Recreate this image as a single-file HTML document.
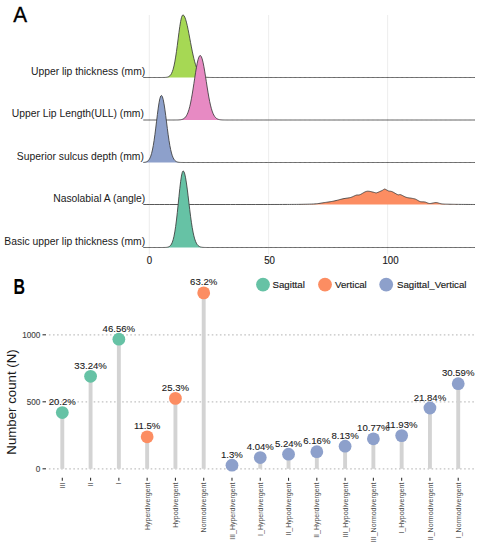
<!DOCTYPE html>
<html><head><meta charset="utf-8"><style>
html,body{margin:0;padding:0;background:#fff;}
svg{display:block;font-family:"Liberation Sans", sans-serif;}
</style></head><body>
<svg width="481" height="550" viewBox="0 0 481 550">
<rect width="481" height="550" fill="#fff"/>
<g stroke="#ebebeb" stroke-width="0.9">
<line x1="149.3" y1="15" x2="149.3" y2="254.3"/>
<line x1="268.6" y1="15" x2="268.6" y2="254.3"/>
<line x1="387.6" y1="15" x2="387.6" y2="254.3"/>
</g>
<path d="M143.30,77.50 L143.30,77.50 L144.13,77.50 L144.96,77.50 L145.79,77.50 L146.62,77.50 L147.45,77.50 L148.28,77.50 L149.10,77.50 L149.93,77.50 L150.76,77.50 L151.59,77.50 L152.42,77.50 L153.25,77.50 L154.08,77.50 L154.91,77.50 L155.74,77.50 L156.57,77.50 L157.40,77.50 L158.23,77.50 L159.06,77.50 L159.89,77.50 L160.71,77.50 L161.54,77.50 L162.37,77.49 L163.20,77.48 L164.03,77.47 L164.86,77.44 L165.69,77.38 L166.52,77.29 L167.35,77.13 L168.18,76.88 L169.01,76.47 L169.84,75.84 L170.67,74.90 L171.49,73.56 L172.32,71.69 L173.15,69.19 L173.98,65.95 L174.81,61.92 L175.64,57.08 L176.47,51.50 L177.30,45.36 L178.13,38.92 L178.96,32.51 L179.79,26.55 L180.62,21.47 L181.45,17.65 L182.27,15.42 L183.10,14.93 L183.93,15.56 L184.76,17.02 L185.59,19.24 L186.42,22.14 L187.25,25.61 L188.08,29.53 L188.91,33.74 L189.74,38.13 L190.57,42.56 L191.40,46.91 L192.23,51.08 L193.06,54.99 L193.88,58.58 L194.71,61.82 L195.54,64.68 L196.37,67.15 L197.20,69.27 L198.03,71.04 L198.86,72.50 L199.69,73.68 L200.52,74.62 L201.35,75.36 L202.18,75.93 L203.01,76.36 L203.84,76.69 L204.66,76.93 L205.49,77.10 L206.32,77.23 L207.15,77.32 L207.98,77.38 L208.81,77.42 L209.64,77.45 L210.47,77.47 L211.30,77.48 L212.13,77.49 L212.96,77.49 L213.79,77.50 L214.62,77.50 L215.44,77.50 L216.27,77.50 L217.10,77.50 L217.93,77.50 L218.76,77.50 L219.59,77.50 L220.42,77.50 L221.25,77.50 L222.08,77.50 L222.91,77.50 L223.74,77.50 L224.57,77.50 L225.40,77.50 L226.23,77.50 L227.05,77.50 L227.88,77.50 L228.71,77.50 L229.54,77.50 L230.37,77.50 L231.20,77.50 L232.03,77.50 L232.86,77.50 L233.69,77.50 L234.52,77.50 L235.35,77.50 L236.18,77.50 L237.01,77.50 L237.83,77.50 L238.66,77.50 L239.49,77.50 L240.32,77.50 L241.15,77.50 L241.98,77.50 L242.81,77.50 L243.64,77.50 L244.47,77.50 L245.30,77.50 L246.13,77.50 L246.96,77.50 L247.79,77.50 L248.61,77.50 L249.44,77.50 L250.27,77.50 L251.10,77.50 L251.93,77.50 L252.76,77.50 L253.59,77.50 L254.42,77.50 L255.25,77.50 L256.08,77.50 L256.91,77.50 L257.74,77.50 L258.57,77.50 L259.39,77.50 L260.22,77.50 L261.05,77.50 L261.88,77.50 L262.71,77.50 L263.54,77.50 L264.37,77.50 L265.20,77.50 L266.03,77.50 L266.86,77.50 L267.69,77.50 L268.52,77.50 L269.35,77.50 L270.18,77.50 L271.00,77.50 L271.83,77.50 L272.66,77.50 L273.49,77.50 L274.32,77.50 L275.15,77.50 L275.98,77.50 L276.81,77.50 L277.64,77.50 L278.47,77.50 L279.30,77.50 L280.13,77.50 L280.96,77.50 L281.78,77.50 L282.61,77.50 L283.44,77.50 L284.27,77.50 L285.10,77.50 L285.93,77.50 L286.76,77.50 L287.59,77.50 L288.42,77.50 L289.25,77.50 L290.08,77.50 L290.91,77.50 L291.74,77.50 L292.56,77.50 L293.39,77.50 L294.22,77.50 L295.05,77.50 L295.88,77.50 L296.71,77.50 L297.54,77.50 L298.37,77.50 L299.20,77.50 L300.03,77.50 L300.86,77.50 L301.69,77.50 L302.52,77.50 L303.35,77.50 L304.17,77.50 L305.00,77.50 L305.83,77.50 L306.66,77.50 L307.49,77.50 L308.32,77.50 L309.15,77.50 L309.98,77.50 L310.81,77.50 L311.64,77.50 L312.47,77.50 L313.30,77.50 L314.13,77.50 L314.95,77.50 L315.78,77.50 L316.61,77.50 L317.44,77.50 L318.27,77.50 L319.10,77.50 L319.93,77.50 L320.76,77.50 L321.59,77.50 L322.42,77.50 L323.25,77.50 L324.08,77.50 L324.91,77.50 L325.74,77.50 L326.56,77.50 L327.39,77.50 L328.22,77.50 L329.05,77.50 L329.88,77.50 L330.71,77.50 L331.54,77.50 L332.37,77.50 L333.20,77.50 L334.03,77.50 L334.86,77.50 L335.69,77.50 L336.52,77.50 L337.34,77.50 L338.17,77.50 L339.00,77.50 L339.83,77.50 L340.66,77.50 L341.49,77.50 L342.32,77.50 L343.15,77.50 L343.98,77.50 L344.81,77.50 L345.64,77.50 L346.47,77.50 L347.30,77.50 L348.12,77.50 L348.95,77.50 L349.78,77.50 L350.61,77.50 L351.44,77.50 L352.27,77.50 L353.10,77.50 L353.93,77.50 L354.76,77.50 L355.59,77.50 L356.42,77.50 L357.25,77.50 L358.08,77.50 L358.90,77.50 L359.73,77.50 L360.56,77.50 L361.39,77.50 L362.22,77.50 L363.05,77.50 L363.88,77.50 L364.71,77.50 L365.54,77.50 L366.37,77.50 L367.20,77.50 L368.03,77.50 L368.86,77.50 L369.69,77.50 L370.51,77.50 L371.34,77.50 L372.17,77.50 L373.00,77.50 L373.83,77.50 L374.66,77.50 L375.49,77.50 L376.32,77.50 L377.15,77.50 L377.98,77.50 L378.81,77.50 L379.64,77.50 L380.47,77.50 L381.29,77.50 L382.12,77.50 L382.95,77.50 L383.78,77.50 L384.61,77.50 L385.44,77.50 L386.27,77.50 L387.10,77.50 L387.93,77.50 L388.76,77.50 L389.59,77.50 L390.42,77.50 L391.25,77.50 L392.08,77.50 L392.90,77.50 L393.73,77.50 L394.56,77.50 L395.39,77.50 L396.22,77.50 L397.05,77.50 L397.88,77.50 L398.71,77.50 L399.54,77.50 L400.37,77.50 L401.20,77.50 L402.03,77.50 L402.86,77.50 L403.68,77.50 L404.51,77.50 L405.34,77.50 L406.17,77.50 L407.00,77.50 L407.83,77.50 L408.66,77.50 L409.49,77.50 L410.32,77.50 L411.15,77.50 L411.98,77.50 L412.81,77.50 L413.64,77.50 L414.46,77.50 L415.29,77.50 L416.12,77.50 L416.95,77.50 L417.78,77.50 L418.61,77.50 L419.44,77.50 L420.27,77.50 L421.10,77.50 L421.93,77.50 L422.76,77.50 L423.59,77.50 L424.42,77.50 L425.25,77.50 L426.07,77.50 L426.90,77.50 L427.73,77.50 L428.56,77.50 L429.39,77.50 L430.22,77.50 L431.05,77.50 L431.88,77.50 L432.71,77.50 L433.54,77.50 L434.37,77.50 L435.20,77.50 L436.03,77.50 L436.85,77.50 L437.68,77.50 L438.51,77.50 L439.34,77.50 L440.17,77.50 L441.00,77.50 L441.83,77.50 L442.66,77.50 L443.49,77.50 L444.32,77.50 L445.15,77.50 L445.98,77.50 L446.81,77.50 L447.63,77.50 L448.46,77.50 L449.29,77.50 L450.12,77.50 L450.95,77.50 L451.78,77.50 L452.61,77.50 L453.44,77.50 L454.27,77.50 L455.10,77.50 L455.93,77.50 L456.76,77.50 L457.59,77.50 L458.42,77.50 L459.24,77.50 L460.07,77.50 L460.90,77.50 L461.73,77.50 L462.56,77.50 L463.39,77.50 L464.22,77.50 L465.05,77.50 L465.88,77.50 L466.71,77.50 L467.54,77.50 L468.37,77.50 L469.20,77.50 L470.02,77.50 L470.85,77.50 L471.68,77.50 L472.51,77.50 L473.34,77.50 L474.17,77.50 L475.00,77.50 L475.00,77.50 Z" fill="#A6D854" stroke="none"/>
<path d="M143.30,77.50 L144.13,77.50 L144.96,77.50 L145.79,77.50 L146.62,77.50 L147.45,77.50 L148.28,77.50 L149.10,77.50 L149.93,77.50 L150.76,77.50 L151.59,77.50 L152.42,77.50 L153.25,77.50 L154.08,77.50 L154.91,77.50 L155.74,77.50 L156.57,77.50 L157.40,77.50 L158.23,77.50 L159.06,77.50 L159.89,77.50 L160.71,77.50 L161.54,77.50 L162.37,77.49 L163.20,77.48 L164.03,77.47 L164.86,77.44 L165.69,77.38 L166.52,77.29 L167.35,77.13 L168.18,76.88 L169.01,76.47 L169.84,75.84 L170.67,74.90 L171.49,73.56 L172.32,71.69 L173.15,69.19 L173.98,65.95 L174.81,61.92 L175.64,57.08 L176.47,51.50 L177.30,45.36 L178.13,38.92 L178.96,32.51 L179.79,26.55 L180.62,21.47 L181.45,17.65 L182.27,15.42 L183.10,14.93 L183.93,15.56 L184.76,17.02 L185.59,19.24 L186.42,22.14 L187.25,25.61 L188.08,29.53 L188.91,33.74 L189.74,38.13 L190.57,42.56 L191.40,46.91 L192.23,51.08 L193.06,54.99 L193.88,58.58 L194.71,61.82 L195.54,64.68 L196.37,67.15 L197.20,69.27 L198.03,71.04 L198.86,72.50 L199.69,73.68 L200.52,74.62 L201.35,75.36 L202.18,75.93 L203.01,76.36 L203.84,76.69 L204.66,76.93 L205.49,77.10 L206.32,77.23 L207.15,77.32 L207.98,77.38 L208.81,77.42 L209.64,77.45 L210.47,77.47 L211.30,77.48 L212.13,77.49 L212.96,77.49 L213.79,77.50 L214.62,77.50 L215.44,77.50 L216.27,77.50 L217.10,77.50 L217.93,77.50 L218.76,77.50 L219.59,77.50 L220.42,77.50 L221.25,77.50 L222.08,77.50 L222.91,77.50 L223.74,77.50 L224.57,77.50 L225.40,77.50 L226.23,77.50 L227.05,77.50 L227.88,77.50 L228.71,77.50 L229.54,77.50 L230.37,77.50 L231.20,77.50 L232.03,77.50 L232.86,77.50 L233.69,77.50 L234.52,77.50 L235.35,77.50 L236.18,77.50 L237.01,77.50 L237.83,77.50 L238.66,77.50 L239.49,77.50 L240.32,77.50 L241.15,77.50 L241.98,77.50 L242.81,77.50 L243.64,77.50 L244.47,77.50 L245.30,77.50 L246.13,77.50 L246.96,77.50 L247.79,77.50 L248.61,77.50 L249.44,77.50 L250.27,77.50 L251.10,77.50 L251.93,77.50 L252.76,77.50 L253.59,77.50 L254.42,77.50 L255.25,77.50 L256.08,77.50 L256.91,77.50 L257.74,77.50 L258.57,77.50 L259.39,77.50 L260.22,77.50 L261.05,77.50 L261.88,77.50 L262.71,77.50 L263.54,77.50 L264.37,77.50 L265.20,77.50 L266.03,77.50 L266.86,77.50 L267.69,77.50 L268.52,77.50 L269.35,77.50 L270.18,77.50 L271.00,77.50 L271.83,77.50 L272.66,77.50 L273.49,77.50 L274.32,77.50 L275.15,77.50 L275.98,77.50 L276.81,77.50 L277.64,77.50 L278.47,77.50 L279.30,77.50 L280.13,77.50 L280.96,77.50 L281.78,77.50 L282.61,77.50 L283.44,77.50 L284.27,77.50 L285.10,77.50 L285.93,77.50 L286.76,77.50 L287.59,77.50 L288.42,77.50 L289.25,77.50 L290.08,77.50 L290.91,77.50 L291.74,77.50 L292.56,77.50 L293.39,77.50 L294.22,77.50 L295.05,77.50 L295.88,77.50 L296.71,77.50 L297.54,77.50 L298.37,77.50 L299.20,77.50 L300.03,77.50 L300.86,77.50 L301.69,77.50 L302.52,77.50 L303.35,77.50 L304.17,77.50 L305.00,77.50 L305.83,77.50 L306.66,77.50 L307.49,77.50 L308.32,77.50 L309.15,77.50 L309.98,77.50 L310.81,77.50 L311.64,77.50 L312.47,77.50 L313.30,77.50 L314.13,77.50 L314.95,77.50 L315.78,77.50 L316.61,77.50 L317.44,77.50 L318.27,77.50 L319.10,77.50 L319.93,77.50 L320.76,77.50 L321.59,77.50 L322.42,77.50 L323.25,77.50 L324.08,77.50 L324.91,77.50 L325.74,77.50 L326.56,77.50 L327.39,77.50 L328.22,77.50 L329.05,77.50 L329.88,77.50 L330.71,77.50 L331.54,77.50 L332.37,77.50 L333.20,77.50 L334.03,77.50 L334.86,77.50 L335.69,77.50 L336.52,77.50 L337.34,77.50 L338.17,77.50 L339.00,77.50 L339.83,77.50 L340.66,77.50 L341.49,77.50 L342.32,77.50 L343.15,77.50 L343.98,77.50 L344.81,77.50 L345.64,77.50 L346.47,77.50 L347.30,77.50 L348.12,77.50 L348.95,77.50 L349.78,77.50 L350.61,77.50 L351.44,77.50 L352.27,77.50 L353.10,77.50 L353.93,77.50 L354.76,77.50 L355.59,77.50 L356.42,77.50 L357.25,77.50 L358.08,77.50 L358.90,77.50 L359.73,77.50 L360.56,77.50 L361.39,77.50 L362.22,77.50 L363.05,77.50 L363.88,77.50 L364.71,77.50 L365.54,77.50 L366.37,77.50 L367.20,77.50 L368.03,77.50 L368.86,77.50 L369.69,77.50 L370.51,77.50 L371.34,77.50 L372.17,77.50 L373.00,77.50 L373.83,77.50 L374.66,77.50 L375.49,77.50 L376.32,77.50 L377.15,77.50 L377.98,77.50 L378.81,77.50 L379.64,77.50 L380.47,77.50 L381.29,77.50 L382.12,77.50 L382.95,77.50 L383.78,77.50 L384.61,77.50 L385.44,77.50 L386.27,77.50 L387.10,77.50 L387.93,77.50 L388.76,77.50 L389.59,77.50 L390.42,77.50 L391.25,77.50 L392.08,77.50 L392.90,77.50 L393.73,77.50 L394.56,77.50 L395.39,77.50 L396.22,77.50 L397.05,77.50 L397.88,77.50 L398.71,77.50 L399.54,77.50 L400.37,77.50 L401.20,77.50 L402.03,77.50 L402.86,77.50 L403.68,77.50 L404.51,77.50 L405.34,77.50 L406.17,77.50 L407.00,77.50 L407.83,77.50 L408.66,77.50 L409.49,77.50 L410.32,77.50 L411.15,77.50 L411.98,77.50 L412.81,77.50 L413.64,77.50 L414.46,77.50 L415.29,77.50 L416.12,77.50 L416.95,77.50 L417.78,77.50 L418.61,77.50 L419.44,77.50 L420.27,77.50 L421.10,77.50 L421.93,77.50 L422.76,77.50 L423.59,77.50 L424.42,77.50 L425.25,77.50 L426.07,77.50 L426.90,77.50 L427.73,77.50 L428.56,77.50 L429.39,77.50 L430.22,77.50 L431.05,77.50 L431.88,77.50 L432.71,77.50 L433.54,77.50 L434.37,77.50 L435.20,77.50 L436.03,77.50 L436.85,77.50 L437.68,77.50 L438.51,77.50 L439.34,77.50 L440.17,77.50 L441.00,77.50 L441.83,77.50 L442.66,77.50 L443.49,77.50 L444.32,77.50 L445.15,77.50 L445.98,77.50 L446.81,77.50 L447.63,77.50 L448.46,77.50 L449.29,77.50 L450.12,77.50 L450.95,77.50 L451.78,77.50 L452.61,77.50 L453.44,77.50 L454.27,77.50 L455.10,77.50 L455.93,77.50 L456.76,77.50 L457.59,77.50 L458.42,77.50 L459.24,77.50 L460.07,77.50 L460.90,77.50 L461.73,77.50 L462.56,77.50 L463.39,77.50 L464.22,77.50 L465.05,77.50 L465.88,77.50 L466.71,77.50 L467.54,77.50 L468.37,77.50 L469.20,77.50 L470.02,77.50 L470.85,77.50 L471.68,77.50 L472.51,77.50 L473.34,77.50 L474.17,77.50 L475.00,77.50" fill="none" stroke="#3a3a3a" stroke-width="0.85" stroke-linejoin="round"/>
<text x="145.3" y="74.8" text-anchor="end" font-size="10.35" fill="#1a1a1a">Upper lip thickness (mm)</text>
<path d="M143.30,120.00 L143.30,120.00 L144.13,120.00 L144.96,120.00 L145.79,120.00 L146.62,120.00 L147.45,120.00 L148.28,120.00 L149.10,120.00 L149.93,120.00 L150.76,120.00 L151.59,120.00 L152.42,120.00 L153.25,120.00 L154.08,120.00 L154.91,120.00 L155.74,120.00 L156.57,120.00 L157.40,120.00 L158.23,120.00 L159.06,120.00 L159.89,120.00 L160.71,120.00 L161.54,120.00 L162.37,120.00 L163.20,120.00 L164.03,120.00 L164.86,120.00 L165.69,120.00 L166.52,120.00 L167.35,120.00 L168.18,120.00 L169.01,120.00 L169.84,120.00 L170.67,120.00 L171.49,120.00 L172.32,120.00 L173.15,120.00 L173.98,120.00 L174.81,119.99 L175.64,119.99 L176.47,119.98 L177.30,119.97 L178.13,119.94 L178.96,119.90 L179.79,119.84 L180.62,119.74 L181.45,119.59 L182.27,119.36 L183.10,119.03 L183.93,118.56 L184.76,117.90 L185.59,116.99 L186.42,115.78 L187.25,114.20 L188.08,112.18 L188.91,109.67 L189.74,106.61 L190.57,102.99 L191.40,98.81 L192.23,94.12 L193.06,89.02 L193.88,83.63 L194.71,78.14 L195.54,72.77 L196.37,67.74 L197.20,63.32 L198.03,59.72 L198.86,57.14 L199.69,55.74 L200.52,55.59 L201.35,56.67 L202.18,58.91 L203.01,62.18 L203.84,66.32 L204.66,71.10 L205.49,76.30 L206.32,81.68 L207.15,87.04 L207.98,92.18 L208.81,96.97 L209.64,101.29 L210.47,105.09 L211.30,108.34 L212.13,111.06 L212.96,113.27 L213.79,115.03 L214.62,116.40 L215.44,117.44 L216.27,118.22 L217.10,118.78 L217.93,119.18 L218.76,119.46 L219.59,119.65 L220.42,119.78 L221.25,119.86 L222.08,119.92 L222.91,119.95 L223.74,119.97 L224.57,119.98 L225.40,119.99 L226.23,119.99 L227.05,120.00 L227.88,120.00 L228.71,120.00 L229.54,120.00 L230.37,120.00 L231.20,120.00 L232.03,120.00 L232.86,120.00 L233.69,120.00 L234.52,120.00 L235.35,120.00 L236.18,120.00 L237.01,120.00 L237.83,120.00 L238.66,120.00 L239.49,120.00 L240.32,120.00 L241.15,120.00 L241.98,120.00 L242.81,120.00 L243.64,120.00 L244.47,120.00 L245.30,120.00 L246.13,120.00 L246.96,120.00 L247.79,120.00 L248.61,120.00 L249.44,120.00 L250.27,120.00 L251.10,120.00 L251.93,120.00 L252.76,120.00 L253.59,120.00 L254.42,120.00 L255.25,120.00 L256.08,120.00 L256.91,120.00 L257.74,120.00 L258.57,120.00 L259.39,120.00 L260.22,120.00 L261.05,120.00 L261.88,120.00 L262.71,120.00 L263.54,120.00 L264.37,120.00 L265.20,120.00 L266.03,120.00 L266.86,120.00 L267.69,120.00 L268.52,120.00 L269.35,120.00 L270.18,120.00 L271.00,120.00 L271.83,120.00 L272.66,120.00 L273.49,120.00 L274.32,120.00 L275.15,120.00 L275.98,120.00 L276.81,120.00 L277.64,120.00 L278.47,120.00 L279.30,120.00 L280.13,120.00 L280.96,120.00 L281.78,120.00 L282.61,120.00 L283.44,120.00 L284.27,120.00 L285.10,120.00 L285.93,120.00 L286.76,120.00 L287.59,120.00 L288.42,120.00 L289.25,120.00 L290.08,120.00 L290.91,120.00 L291.74,120.00 L292.56,120.00 L293.39,120.00 L294.22,120.00 L295.05,120.00 L295.88,120.00 L296.71,120.00 L297.54,120.00 L298.37,120.00 L299.20,120.00 L300.03,120.00 L300.86,120.00 L301.69,120.00 L302.52,120.00 L303.35,120.00 L304.17,120.00 L305.00,120.00 L305.83,120.00 L306.66,120.00 L307.49,120.00 L308.32,120.00 L309.15,120.00 L309.98,120.00 L310.81,120.00 L311.64,120.00 L312.47,120.00 L313.30,120.00 L314.13,120.00 L314.95,120.00 L315.78,120.00 L316.61,120.00 L317.44,120.00 L318.27,120.00 L319.10,120.00 L319.93,120.00 L320.76,120.00 L321.59,120.00 L322.42,120.00 L323.25,120.00 L324.08,120.00 L324.91,120.00 L325.74,120.00 L326.56,120.00 L327.39,120.00 L328.22,120.00 L329.05,120.00 L329.88,120.00 L330.71,120.00 L331.54,120.00 L332.37,120.00 L333.20,120.00 L334.03,120.00 L334.86,120.00 L335.69,120.00 L336.52,120.00 L337.34,120.00 L338.17,120.00 L339.00,120.00 L339.83,120.00 L340.66,120.00 L341.49,120.00 L342.32,120.00 L343.15,120.00 L343.98,120.00 L344.81,120.00 L345.64,120.00 L346.47,120.00 L347.30,120.00 L348.12,120.00 L348.95,120.00 L349.78,120.00 L350.61,120.00 L351.44,120.00 L352.27,120.00 L353.10,120.00 L353.93,120.00 L354.76,120.00 L355.59,120.00 L356.42,120.00 L357.25,120.00 L358.08,120.00 L358.90,120.00 L359.73,120.00 L360.56,120.00 L361.39,120.00 L362.22,120.00 L363.05,120.00 L363.88,120.00 L364.71,120.00 L365.54,120.00 L366.37,120.00 L367.20,120.00 L368.03,120.00 L368.86,120.00 L369.69,120.00 L370.51,120.00 L371.34,120.00 L372.17,120.00 L373.00,120.00 L373.83,120.00 L374.66,120.00 L375.49,120.00 L376.32,120.00 L377.15,120.00 L377.98,120.00 L378.81,120.00 L379.64,120.00 L380.47,120.00 L381.29,120.00 L382.12,120.00 L382.95,120.00 L383.78,120.00 L384.61,120.00 L385.44,120.00 L386.27,120.00 L387.10,120.00 L387.93,120.00 L388.76,120.00 L389.59,120.00 L390.42,120.00 L391.25,120.00 L392.08,120.00 L392.90,120.00 L393.73,120.00 L394.56,120.00 L395.39,120.00 L396.22,120.00 L397.05,120.00 L397.88,120.00 L398.71,120.00 L399.54,120.00 L400.37,120.00 L401.20,120.00 L402.03,120.00 L402.86,120.00 L403.68,120.00 L404.51,120.00 L405.34,120.00 L406.17,120.00 L407.00,120.00 L407.83,120.00 L408.66,120.00 L409.49,120.00 L410.32,120.00 L411.15,120.00 L411.98,120.00 L412.81,120.00 L413.64,120.00 L414.46,120.00 L415.29,120.00 L416.12,120.00 L416.95,120.00 L417.78,120.00 L418.61,120.00 L419.44,120.00 L420.27,120.00 L421.10,120.00 L421.93,120.00 L422.76,120.00 L423.59,120.00 L424.42,120.00 L425.25,120.00 L426.07,120.00 L426.90,120.00 L427.73,120.00 L428.56,120.00 L429.39,120.00 L430.22,120.00 L431.05,120.00 L431.88,120.00 L432.71,120.00 L433.54,120.00 L434.37,120.00 L435.20,120.00 L436.03,120.00 L436.85,120.00 L437.68,120.00 L438.51,120.00 L439.34,120.00 L440.17,120.00 L441.00,120.00 L441.83,120.00 L442.66,120.00 L443.49,120.00 L444.32,120.00 L445.15,120.00 L445.98,120.00 L446.81,120.00 L447.63,120.00 L448.46,120.00 L449.29,120.00 L450.12,120.00 L450.95,120.00 L451.78,120.00 L452.61,120.00 L453.44,120.00 L454.27,120.00 L455.10,120.00 L455.93,120.00 L456.76,120.00 L457.59,120.00 L458.42,120.00 L459.24,120.00 L460.07,120.00 L460.90,120.00 L461.73,120.00 L462.56,120.00 L463.39,120.00 L464.22,120.00 L465.05,120.00 L465.88,120.00 L466.71,120.00 L467.54,120.00 L468.37,120.00 L469.20,120.00 L470.02,120.00 L470.85,120.00 L471.68,120.00 L472.51,120.00 L473.34,120.00 L474.17,120.00 L475.00,120.00 L475.00,120.00 Z" fill="#E78AC3" stroke="none"/>
<path d="M143.30,120.00 L144.13,120.00 L144.96,120.00 L145.79,120.00 L146.62,120.00 L147.45,120.00 L148.28,120.00 L149.10,120.00 L149.93,120.00 L150.76,120.00 L151.59,120.00 L152.42,120.00 L153.25,120.00 L154.08,120.00 L154.91,120.00 L155.74,120.00 L156.57,120.00 L157.40,120.00 L158.23,120.00 L159.06,120.00 L159.89,120.00 L160.71,120.00 L161.54,120.00 L162.37,120.00 L163.20,120.00 L164.03,120.00 L164.86,120.00 L165.69,120.00 L166.52,120.00 L167.35,120.00 L168.18,120.00 L169.01,120.00 L169.84,120.00 L170.67,120.00 L171.49,120.00 L172.32,120.00 L173.15,120.00 L173.98,120.00 L174.81,119.99 L175.64,119.99 L176.47,119.98 L177.30,119.97 L178.13,119.94 L178.96,119.90 L179.79,119.84 L180.62,119.74 L181.45,119.59 L182.27,119.36 L183.10,119.03 L183.93,118.56 L184.76,117.90 L185.59,116.99 L186.42,115.78 L187.25,114.20 L188.08,112.18 L188.91,109.67 L189.74,106.61 L190.57,102.99 L191.40,98.81 L192.23,94.12 L193.06,89.02 L193.88,83.63 L194.71,78.14 L195.54,72.77 L196.37,67.74 L197.20,63.32 L198.03,59.72 L198.86,57.14 L199.69,55.74 L200.52,55.59 L201.35,56.67 L202.18,58.91 L203.01,62.18 L203.84,66.32 L204.66,71.10 L205.49,76.30 L206.32,81.68 L207.15,87.04 L207.98,92.18 L208.81,96.97 L209.64,101.29 L210.47,105.09 L211.30,108.34 L212.13,111.06 L212.96,113.27 L213.79,115.03 L214.62,116.40 L215.44,117.44 L216.27,118.22 L217.10,118.78 L217.93,119.18 L218.76,119.46 L219.59,119.65 L220.42,119.78 L221.25,119.86 L222.08,119.92 L222.91,119.95 L223.74,119.97 L224.57,119.98 L225.40,119.99 L226.23,119.99 L227.05,120.00 L227.88,120.00 L228.71,120.00 L229.54,120.00 L230.37,120.00 L231.20,120.00 L232.03,120.00 L232.86,120.00 L233.69,120.00 L234.52,120.00 L235.35,120.00 L236.18,120.00 L237.01,120.00 L237.83,120.00 L238.66,120.00 L239.49,120.00 L240.32,120.00 L241.15,120.00 L241.98,120.00 L242.81,120.00 L243.64,120.00 L244.47,120.00 L245.30,120.00 L246.13,120.00 L246.96,120.00 L247.79,120.00 L248.61,120.00 L249.44,120.00 L250.27,120.00 L251.10,120.00 L251.93,120.00 L252.76,120.00 L253.59,120.00 L254.42,120.00 L255.25,120.00 L256.08,120.00 L256.91,120.00 L257.74,120.00 L258.57,120.00 L259.39,120.00 L260.22,120.00 L261.05,120.00 L261.88,120.00 L262.71,120.00 L263.54,120.00 L264.37,120.00 L265.20,120.00 L266.03,120.00 L266.86,120.00 L267.69,120.00 L268.52,120.00 L269.35,120.00 L270.18,120.00 L271.00,120.00 L271.83,120.00 L272.66,120.00 L273.49,120.00 L274.32,120.00 L275.15,120.00 L275.98,120.00 L276.81,120.00 L277.64,120.00 L278.47,120.00 L279.30,120.00 L280.13,120.00 L280.96,120.00 L281.78,120.00 L282.61,120.00 L283.44,120.00 L284.27,120.00 L285.10,120.00 L285.93,120.00 L286.76,120.00 L287.59,120.00 L288.42,120.00 L289.25,120.00 L290.08,120.00 L290.91,120.00 L291.74,120.00 L292.56,120.00 L293.39,120.00 L294.22,120.00 L295.05,120.00 L295.88,120.00 L296.71,120.00 L297.54,120.00 L298.37,120.00 L299.20,120.00 L300.03,120.00 L300.86,120.00 L301.69,120.00 L302.52,120.00 L303.35,120.00 L304.17,120.00 L305.00,120.00 L305.83,120.00 L306.66,120.00 L307.49,120.00 L308.32,120.00 L309.15,120.00 L309.98,120.00 L310.81,120.00 L311.64,120.00 L312.47,120.00 L313.30,120.00 L314.13,120.00 L314.95,120.00 L315.78,120.00 L316.61,120.00 L317.44,120.00 L318.27,120.00 L319.10,120.00 L319.93,120.00 L320.76,120.00 L321.59,120.00 L322.42,120.00 L323.25,120.00 L324.08,120.00 L324.91,120.00 L325.74,120.00 L326.56,120.00 L327.39,120.00 L328.22,120.00 L329.05,120.00 L329.88,120.00 L330.71,120.00 L331.54,120.00 L332.37,120.00 L333.20,120.00 L334.03,120.00 L334.86,120.00 L335.69,120.00 L336.52,120.00 L337.34,120.00 L338.17,120.00 L339.00,120.00 L339.83,120.00 L340.66,120.00 L341.49,120.00 L342.32,120.00 L343.15,120.00 L343.98,120.00 L344.81,120.00 L345.64,120.00 L346.47,120.00 L347.30,120.00 L348.12,120.00 L348.95,120.00 L349.78,120.00 L350.61,120.00 L351.44,120.00 L352.27,120.00 L353.10,120.00 L353.93,120.00 L354.76,120.00 L355.59,120.00 L356.42,120.00 L357.25,120.00 L358.08,120.00 L358.90,120.00 L359.73,120.00 L360.56,120.00 L361.39,120.00 L362.22,120.00 L363.05,120.00 L363.88,120.00 L364.71,120.00 L365.54,120.00 L366.37,120.00 L367.20,120.00 L368.03,120.00 L368.86,120.00 L369.69,120.00 L370.51,120.00 L371.34,120.00 L372.17,120.00 L373.00,120.00 L373.83,120.00 L374.66,120.00 L375.49,120.00 L376.32,120.00 L377.15,120.00 L377.98,120.00 L378.81,120.00 L379.64,120.00 L380.47,120.00 L381.29,120.00 L382.12,120.00 L382.95,120.00 L383.78,120.00 L384.61,120.00 L385.44,120.00 L386.27,120.00 L387.10,120.00 L387.93,120.00 L388.76,120.00 L389.59,120.00 L390.42,120.00 L391.25,120.00 L392.08,120.00 L392.90,120.00 L393.73,120.00 L394.56,120.00 L395.39,120.00 L396.22,120.00 L397.05,120.00 L397.88,120.00 L398.71,120.00 L399.54,120.00 L400.37,120.00 L401.20,120.00 L402.03,120.00 L402.86,120.00 L403.68,120.00 L404.51,120.00 L405.34,120.00 L406.17,120.00 L407.00,120.00 L407.83,120.00 L408.66,120.00 L409.49,120.00 L410.32,120.00 L411.15,120.00 L411.98,120.00 L412.81,120.00 L413.64,120.00 L414.46,120.00 L415.29,120.00 L416.12,120.00 L416.95,120.00 L417.78,120.00 L418.61,120.00 L419.44,120.00 L420.27,120.00 L421.10,120.00 L421.93,120.00 L422.76,120.00 L423.59,120.00 L424.42,120.00 L425.25,120.00 L426.07,120.00 L426.90,120.00 L427.73,120.00 L428.56,120.00 L429.39,120.00 L430.22,120.00 L431.05,120.00 L431.88,120.00 L432.71,120.00 L433.54,120.00 L434.37,120.00 L435.20,120.00 L436.03,120.00 L436.85,120.00 L437.68,120.00 L438.51,120.00 L439.34,120.00 L440.17,120.00 L441.00,120.00 L441.83,120.00 L442.66,120.00 L443.49,120.00 L444.32,120.00 L445.15,120.00 L445.98,120.00 L446.81,120.00 L447.63,120.00 L448.46,120.00 L449.29,120.00 L450.12,120.00 L450.95,120.00 L451.78,120.00 L452.61,120.00 L453.44,120.00 L454.27,120.00 L455.10,120.00 L455.93,120.00 L456.76,120.00 L457.59,120.00 L458.42,120.00 L459.24,120.00 L460.07,120.00 L460.90,120.00 L461.73,120.00 L462.56,120.00 L463.39,120.00 L464.22,120.00 L465.05,120.00 L465.88,120.00 L466.71,120.00 L467.54,120.00 L468.37,120.00 L469.20,120.00 L470.02,120.00 L470.85,120.00 L471.68,120.00 L472.51,120.00 L473.34,120.00 L474.17,120.00 L475.00,120.00" fill="none" stroke="#3a3a3a" stroke-width="0.85" stroke-linejoin="round"/>
<text x="143.9" y="117.3" text-anchor="end" font-size="10.35" fill="#1a1a1a">Upper Lip Length(ULL) (mm)</text>
<path d="M143.30,162.50 L143.30,162.43 L144.13,162.37 L144.96,162.26 L145.79,162.08 L146.62,161.79 L147.45,161.34 L148.28,160.64 L149.10,159.62 L149.93,158.16 L150.76,156.14 L151.59,153.45 L152.42,149.98 L153.25,145.67 L154.08,140.51 L154.91,134.59 L155.74,128.08 L156.57,121.24 L157.40,114.44 L158.23,108.09 L159.06,102.66 L159.89,98.53 L160.71,96.05 L161.54,95.43 L162.37,96.61 L163.20,99.46 L164.03,103.76 L164.86,109.20 L165.69,115.39 L166.52,121.95 L167.35,128.51 L168.18,134.75 L169.01,140.44 L169.84,145.42 L170.67,149.62 L171.49,153.04 L172.32,155.73 L173.15,157.78 L173.98,159.30 L174.81,160.39 L175.64,161.14 L176.47,161.65 L177.30,161.98 L178.13,162.19 L178.96,162.32 L179.79,162.40 L180.62,162.44 L181.45,162.47 L182.27,162.48 L183.10,162.49 L183.93,162.50 L184.76,162.50 L185.59,162.50 L186.42,162.50 L187.25,162.50 L188.08,162.50 L188.91,162.50 L189.74,162.50 L190.57,162.50 L191.40,162.50 L192.23,162.50 L193.06,162.50 L193.88,162.50 L194.71,162.50 L195.54,162.50 L196.37,162.50 L197.20,162.50 L198.03,162.50 L198.86,162.50 L199.69,162.50 L200.52,162.50 L201.35,162.50 L202.18,162.50 L203.01,162.50 L203.84,162.50 L204.66,162.50 L205.49,162.50 L206.32,162.50 L207.15,162.50 L207.98,162.50 L208.81,162.50 L209.64,162.50 L210.47,162.50 L211.30,162.50 L212.13,162.50 L212.96,162.50 L213.79,162.50 L214.62,162.50 L215.44,162.50 L216.27,162.50 L217.10,162.50 L217.93,162.50 L218.76,162.50 L219.59,162.50 L220.42,162.50 L221.25,162.50 L222.08,162.50 L222.91,162.50 L223.74,162.50 L224.57,162.50 L225.40,162.50 L226.23,162.50 L227.05,162.50 L227.88,162.50 L228.71,162.50 L229.54,162.50 L230.37,162.50 L231.20,162.50 L232.03,162.50 L232.86,162.50 L233.69,162.50 L234.52,162.50 L235.35,162.50 L236.18,162.50 L237.01,162.50 L237.83,162.50 L238.66,162.50 L239.49,162.50 L240.32,162.50 L241.15,162.50 L241.98,162.50 L242.81,162.50 L243.64,162.50 L244.47,162.50 L245.30,162.50 L246.13,162.50 L246.96,162.50 L247.79,162.50 L248.61,162.50 L249.44,162.50 L250.27,162.50 L251.10,162.50 L251.93,162.50 L252.76,162.50 L253.59,162.50 L254.42,162.50 L255.25,162.50 L256.08,162.50 L256.91,162.50 L257.74,162.50 L258.57,162.50 L259.39,162.50 L260.22,162.50 L261.05,162.50 L261.88,162.50 L262.71,162.50 L263.54,162.50 L264.37,162.50 L265.20,162.50 L266.03,162.50 L266.86,162.50 L267.69,162.50 L268.52,162.50 L269.35,162.50 L270.18,162.50 L271.00,162.50 L271.83,162.50 L272.66,162.50 L273.49,162.50 L274.32,162.50 L275.15,162.50 L275.98,162.50 L276.81,162.50 L277.64,162.50 L278.47,162.50 L279.30,162.50 L280.13,162.50 L280.96,162.50 L281.78,162.50 L282.61,162.50 L283.44,162.50 L284.27,162.50 L285.10,162.50 L285.93,162.50 L286.76,162.50 L287.59,162.50 L288.42,162.50 L289.25,162.50 L290.08,162.50 L290.91,162.50 L291.74,162.50 L292.56,162.50 L293.39,162.50 L294.22,162.50 L295.05,162.50 L295.88,162.50 L296.71,162.50 L297.54,162.50 L298.37,162.50 L299.20,162.50 L300.03,162.50 L300.86,162.50 L301.69,162.50 L302.52,162.50 L303.35,162.50 L304.17,162.50 L305.00,162.50 L305.83,162.50 L306.66,162.50 L307.49,162.50 L308.32,162.50 L309.15,162.50 L309.98,162.50 L310.81,162.50 L311.64,162.50 L312.47,162.50 L313.30,162.50 L314.13,162.50 L314.95,162.50 L315.78,162.50 L316.61,162.50 L317.44,162.50 L318.27,162.50 L319.10,162.50 L319.93,162.50 L320.76,162.50 L321.59,162.50 L322.42,162.50 L323.25,162.50 L324.08,162.50 L324.91,162.50 L325.74,162.50 L326.56,162.50 L327.39,162.50 L328.22,162.50 L329.05,162.50 L329.88,162.50 L330.71,162.50 L331.54,162.50 L332.37,162.50 L333.20,162.50 L334.03,162.50 L334.86,162.50 L335.69,162.50 L336.52,162.50 L337.34,162.50 L338.17,162.50 L339.00,162.50 L339.83,162.50 L340.66,162.50 L341.49,162.50 L342.32,162.50 L343.15,162.50 L343.98,162.50 L344.81,162.50 L345.64,162.50 L346.47,162.50 L347.30,162.50 L348.12,162.50 L348.95,162.50 L349.78,162.50 L350.61,162.50 L351.44,162.50 L352.27,162.50 L353.10,162.50 L353.93,162.50 L354.76,162.50 L355.59,162.50 L356.42,162.50 L357.25,162.50 L358.08,162.50 L358.90,162.50 L359.73,162.50 L360.56,162.50 L361.39,162.50 L362.22,162.50 L363.05,162.50 L363.88,162.50 L364.71,162.50 L365.54,162.50 L366.37,162.50 L367.20,162.50 L368.03,162.50 L368.86,162.50 L369.69,162.50 L370.51,162.50 L371.34,162.50 L372.17,162.50 L373.00,162.50 L373.83,162.50 L374.66,162.50 L375.49,162.50 L376.32,162.50 L377.15,162.50 L377.98,162.50 L378.81,162.50 L379.64,162.50 L380.47,162.50 L381.29,162.50 L382.12,162.50 L382.95,162.50 L383.78,162.50 L384.61,162.50 L385.44,162.50 L386.27,162.50 L387.10,162.50 L387.93,162.50 L388.76,162.50 L389.59,162.50 L390.42,162.50 L391.25,162.50 L392.08,162.50 L392.90,162.50 L393.73,162.50 L394.56,162.50 L395.39,162.50 L396.22,162.50 L397.05,162.50 L397.88,162.50 L398.71,162.50 L399.54,162.50 L400.37,162.50 L401.20,162.50 L402.03,162.50 L402.86,162.50 L403.68,162.50 L404.51,162.50 L405.34,162.50 L406.17,162.50 L407.00,162.50 L407.83,162.50 L408.66,162.50 L409.49,162.50 L410.32,162.50 L411.15,162.50 L411.98,162.50 L412.81,162.50 L413.64,162.50 L414.46,162.50 L415.29,162.50 L416.12,162.50 L416.95,162.50 L417.78,162.50 L418.61,162.50 L419.44,162.50 L420.27,162.50 L421.10,162.50 L421.93,162.50 L422.76,162.50 L423.59,162.50 L424.42,162.50 L425.25,162.50 L426.07,162.50 L426.90,162.50 L427.73,162.50 L428.56,162.50 L429.39,162.50 L430.22,162.50 L431.05,162.50 L431.88,162.50 L432.71,162.50 L433.54,162.50 L434.37,162.50 L435.20,162.50 L436.03,162.50 L436.85,162.50 L437.68,162.50 L438.51,162.50 L439.34,162.50 L440.17,162.50 L441.00,162.50 L441.83,162.50 L442.66,162.50 L443.49,162.50 L444.32,162.50 L445.15,162.50 L445.98,162.50 L446.81,162.50 L447.63,162.50 L448.46,162.50 L449.29,162.50 L450.12,162.50 L450.95,162.50 L451.78,162.50 L452.61,162.50 L453.44,162.50 L454.27,162.50 L455.10,162.50 L455.93,162.50 L456.76,162.50 L457.59,162.50 L458.42,162.50 L459.24,162.50 L460.07,162.50 L460.90,162.50 L461.73,162.50 L462.56,162.50 L463.39,162.50 L464.22,162.50 L465.05,162.50 L465.88,162.50 L466.71,162.50 L467.54,162.50 L468.37,162.50 L469.20,162.50 L470.02,162.50 L470.85,162.50 L471.68,162.50 L472.51,162.50 L473.34,162.50 L474.17,162.50 L475.00,162.50 L475.00,162.50 Z" fill="#8DA0CB" stroke="none"/>
<path d="M143.30,162.43 L144.13,162.37 L144.96,162.26 L145.79,162.08 L146.62,161.79 L147.45,161.34 L148.28,160.64 L149.10,159.62 L149.93,158.16 L150.76,156.14 L151.59,153.45 L152.42,149.98 L153.25,145.67 L154.08,140.51 L154.91,134.59 L155.74,128.08 L156.57,121.24 L157.40,114.44 L158.23,108.09 L159.06,102.66 L159.89,98.53 L160.71,96.05 L161.54,95.43 L162.37,96.61 L163.20,99.46 L164.03,103.76 L164.86,109.20 L165.69,115.39 L166.52,121.95 L167.35,128.51 L168.18,134.75 L169.01,140.44 L169.84,145.42 L170.67,149.62 L171.49,153.04 L172.32,155.73 L173.15,157.78 L173.98,159.30 L174.81,160.39 L175.64,161.14 L176.47,161.65 L177.30,161.98 L178.13,162.19 L178.96,162.32 L179.79,162.40 L180.62,162.44 L181.45,162.47 L182.27,162.48 L183.10,162.49 L183.93,162.50 L184.76,162.50 L185.59,162.50 L186.42,162.50 L187.25,162.50 L188.08,162.50 L188.91,162.50 L189.74,162.50 L190.57,162.50 L191.40,162.50 L192.23,162.50 L193.06,162.50 L193.88,162.50 L194.71,162.50 L195.54,162.50 L196.37,162.50 L197.20,162.50 L198.03,162.50 L198.86,162.50 L199.69,162.50 L200.52,162.50 L201.35,162.50 L202.18,162.50 L203.01,162.50 L203.84,162.50 L204.66,162.50 L205.49,162.50 L206.32,162.50 L207.15,162.50 L207.98,162.50 L208.81,162.50 L209.64,162.50 L210.47,162.50 L211.30,162.50 L212.13,162.50 L212.96,162.50 L213.79,162.50 L214.62,162.50 L215.44,162.50 L216.27,162.50 L217.10,162.50 L217.93,162.50 L218.76,162.50 L219.59,162.50 L220.42,162.50 L221.25,162.50 L222.08,162.50 L222.91,162.50 L223.74,162.50 L224.57,162.50 L225.40,162.50 L226.23,162.50 L227.05,162.50 L227.88,162.50 L228.71,162.50 L229.54,162.50 L230.37,162.50 L231.20,162.50 L232.03,162.50 L232.86,162.50 L233.69,162.50 L234.52,162.50 L235.35,162.50 L236.18,162.50 L237.01,162.50 L237.83,162.50 L238.66,162.50 L239.49,162.50 L240.32,162.50 L241.15,162.50 L241.98,162.50 L242.81,162.50 L243.64,162.50 L244.47,162.50 L245.30,162.50 L246.13,162.50 L246.96,162.50 L247.79,162.50 L248.61,162.50 L249.44,162.50 L250.27,162.50 L251.10,162.50 L251.93,162.50 L252.76,162.50 L253.59,162.50 L254.42,162.50 L255.25,162.50 L256.08,162.50 L256.91,162.50 L257.74,162.50 L258.57,162.50 L259.39,162.50 L260.22,162.50 L261.05,162.50 L261.88,162.50 L262.71,162.50 L263.54,162.50 L264.37,162.50 L265.20,162.50 L266.03,162.50 L266.86,162.50 L267.69,162.50 L268.52,162.50 L269.35,162.50 L270.18,162.50 L271.00,162.50 L271.83,162.50 L272.66,162.50 L273.49,162.50 L274.32,162.50 L275.15,162.50 L275.98,162.50 L276.81,162.50 L277.64,162.50 L278.47,162.50 L279.30,162.50 L280.13,162.50 L280.96,162.50 L281.78,162.50 L282.61,162.50 L283.44,162.50 L284.27,162.50 L285.10,162.50 L285.93,162.50 L286.76,162.50 L287.59,162.50 L288.42,162.50 L289.25,162.50 L290.08,162.50 L290.91,162.50 L291.74,162.50 L292.56,162.50 L293.39,162.50 L294.22,162.50 L295.05,162.50 L295.88,162.50 L296.71,162.50 L297.54,162.50 L298.37,162.50 L299.20,162.50 L300.03,162.50 L300.86,162.50 L301.69,162.50 L302.52,162.50 L303.35,162.50 L304.17,162.50 L305.00,162.50 L305.83,162.50 L306.66,162.50 L307.49,162.50 L308.32,162.50 L309.15,162.50 L309.98,162.50 L310.81,162.50 L311.64,162.50 L312.47,162.50 L313.30,162.50 L314.13,162.50 L314.95,162.50 L315.78,162.50 L316.61,162.50 L317.44,162.50 L318.27,162.50 L319.10,162.50 L319.93,162.50 L320.76,162.50 L321.59,162.50 L322.42,162.50 L323.25,162.50 L324.08,162.50 L324.91,162.50 L325.74,162.50 L326.56,162.50 L327.39,162.50 L328.22,162.50 L329.05,162.50 L329.88,162.50 L330.71,162.50 L331.54,162.50 L332.37,162.50 L333.20,162.50 L334.03,162.50 L334.86,162.50 L335.69,162.50 L336.52,162.50 L337.34,162.50 L338.17,162.50 L339.00,162.50 L339.83,162.50 L340.66,162.50 L341.49,162.50 L342.32,162.50 L343.15,162.50 L343.98,162.50 L344.81,162.50 L345.64,162.50 L346.47,162.50 L347.30,162.50 L348.12,162.50 L348.95,162.50 L349.78,162.50 L350.61,162.50 L351.44,162.50 L352.27,162.50 L353.10,162.50 L353.93,162.50 L354.76,162.50 L355.59,162.50 L356.42,162.50 L357.25,162.50 L358.08,162.50 L358.90,162.50 L359.73,162.50 L360.56,162.50 L361.39,162.50 L362.22,162.50 L363.05,162.50 L363.88,162.50 L364.71,162.50 L365.54,162.50 L366.37,162.50 L367.20,162.50 L368.03,162.50 L368.86,162.50 L369.69,162.50 L370.51,162.50 L371.34,162.50 L372.17,162.50 L373.00,162.50 L373.83,162.50 L374.66,162.50 L375.49,162.50 L376.32,162.50 L377.15,162.50 L377.98,162.50 L378.81,162.50 L379.64,162.50 L380.47,162.50 L381.29,162.50 L382.12,162.50 L382.95,162.50 L383.78,162.50 L384.61,162.50 L385.44,162.50 L386.27,162.50 L387.10,162.50 L387.93,162.50 L388.76,162.50 L389.59,162.50 L390.42,162.50 L391.25,162.50 L392.08,162.50 L392.90,162.50 L393.73,162.50 L394.56,162.50 L395.39,162.50 L396.22,162.50 L397.05,162.50 L397.88,162.50 L398.71,162.50 L399.54,162.50 L400.37,162.50 L401.20,162.50 L402.03,162.50 L402.86,162.50 L403.68,162.50 L404.51,162.50 L405.34,162.50 L406.17,162.50 L407.00,162.50 L407.83,162.50 L408.66,162.50 L409.49,162.50 L410.32,162.50 L411.15,162.50 L411.98,162.50 L412.81,162.50 L413.64,162.50 L414.46,162.50 L415.29,162.50 L416.12,162.50 L416.95,162.50 L417.78,162.50 L418.61,162.50 L419.44,162.50 L420.27,162.50 L421.10,162.50 L421.93,162.50 L422.76,162.50 L423.59,162.50 L424.42,162.50 L425.25,162.50 L426.07,162.50 L426.90,162.50 L427.73,162.50 L428.56,162.50 L429.39,162.50 L430.22,162.50 L431.05,162.50 L431.88,162.50 L432.71,162.50 L433.54,162.50 L434.37,162.50 L435.20,162.50 L436.03,162.50 L436.85,162.50 L437.68,162.50 L438.51,162.50 L439.34,162.50 L440.17,162.50 L441.00,162.50 L441.83,162.50 L442.66,162.50 L443.49,162.50 L444.32,162.50 L445.15,162.50 L445.98,162.50 L446.81,162.50 L447.63,162.50 L448.46,162.50 L449.29,162.50 L450.12,162.50 L450.95,162.50 L451.78,162.50 L452.61,162.50 L453.44,162.50 L454.27,162.50 L455.10,162.50 L455.93,162.50 L456.76,162.50 L457.59,162.50 L458.42,162.50 L459.24,162.50 L460.07,162.50 L460.90,162.50 L461.73,162.50 L462.56,162.50 L463.39,162.50 L464.22,162.50 L465.05,162.50 L465.88,162.50 L466.71,162.50 L467.54,162.50 L468.37,162.50 L469.20,162.50 L470.02,162.50 L470.85,162.50 L471.68,162.50 L472.51,162.50 L473.34,162.50 L474.17,162.50 L475.00,162.50" fill="none" stroke="#3a3a3a" stroke-width="0.85" stroke-linejoin="round"/>
<text x="143.9" y="159.8" text-anchor="end" font-size="10.35" fill="#1a1a1a">Superior sulcus depth (mm)</text>
<path d="M143.30,204.50 L143.30,204.50 L146.11,204.50 L149.82,204.50 L154.23,204.50 L159.15,204.50 L164.38,204.50 L169.73,204.50 L175.00,204.50 L180.00,204.50 L184.84,204.50 L189.77,204.50 L194.76,204.50 L199.79,204.50 L204.85,204.50 L209.92,204.50 L214.98,204.50 L220.00,204.50 L225.10,204.50 L230.35,204.50 L235.66,204.50 L240.94,204.50 L246.10,204.50 L251.05,204.50 L255.72,204.50 L260.00,204.50 L263.91,204.50 L267.54,204.49 L270.91,204.49 L274.06,204.48 L277.02,204.47 L279.80,204.47 L282.46,204.46 L285.00,204.45 L287.35,204.44 L289.45,204.44 L291.36,204.43 L293.12,204.42 L294.81,204.42 L296.48,204.40 L298.19,204.38 L300.00,204.35 L301.91,204.32 L303.88,204.28 L305.88,204.24 L307.86,204.20 L309.79,204.15 L311.65,204.08 L313.40,204.00 L315.00,203.90 L316.43,203.78 L317.72,203.64 L318.90,203.48 L320.00,203.32 L321.06,203.14 L322.10,202.96 L323.17,202.78 L324.30,202.60 L325.47,202.43 L326.65,202.26 L327.82,202.09 L329.00,201.91 L330.18,201.73 L331.35,201.54 L332.53,201.33 L333.70,201.10 L334.88,200.84 L336.07,200.56 L337.27,200.25 L338.47,199.94 L339.65,199.62 L340.80,199.32 L341.92,199.05 L343.00,198.80 L344.04,198.60 L345.05,198.43 L346.03,198.28 L346.98,198.15 L347.91,198.02 L348.80,197.87 L349.67,197.70 L350.50,197.50 L351.30,197.25 L352.08,196.95 L352.82,196.63 L353.53,196.30 L354.22,195.97 L354.87,195.67 L355.50,195.41 L356.10,195.20 L356.65,195.07 L357.13,195.01 L357.58,194.99 L358.00,194.99 L358.42,194.99 L358.87,194.96 L359.35,194.87 L359.90,194.70 L360.53,194.43 L361.22,194.06 L361.95,193.64 L362.71,193.19 L363.46,192.74 L364.19,192.33 L364.88,191.97 L365.50,191.70 L366.04,191.51 L366.51,191.38 L366.94,191.28 L367.34,191.23 L367.75,191.21 L368.18,191.22 L368.65,191.25 L369.20,191.30 L369.84,191.39 L370.58,191.53 L371.36,191.71 L372.17,191.91 L372.96,192.12 L373.70,192.31 L374.36,192.48 L374.90,192.60 L375.29,192.70 L375.54,192.79 L375.69,192.87 L375.81,192.93 L375.92,192.96 L376.07,192.96 L376.32,192.91 L376.70,192.80 L377.24,192.62 L377.91,192.36 L378.66,192.04 L379.46,191.69 L380.27,191.33 L381.04,190.98 L381.73,190.67 L382.30,190.40 L382.74,190.16 L383.09,189.93 L383.38,189.70 L383.62,189.49 L383.85,189.31 L384.08,189.18 L384.36,189.11 L384.70,189.10 L385.10,189.18 L385.53,189.36 L385.99,189.59 L386.46,189.87 L386.95,190.16 L387.44,190.45 L387.92,190.70 L388.40,190.90 L388.86,191.03 L389.30,191.12 L389.74,191.18 L390.18,191.23 L390.64,191.28 L391.12,191.37 L391.64,191.50 L392.20,191.70 L392.83,191.99 L393.54,192.37 L394.29,192.80 L395.06,193.25 L395.83,193.70 L396.55,194.11 L397.22,194.45 L397.80,194.70 L398.26,194.83 L398.63,194.85 L398.93,194.81 L399.20,194.72 L399.47,194.64 L399.77,194.59 L400.14,194.60 L400.60,194.70 L401.17,194.91 L401.80,195.20 L402.49,195.55 L403.23,195.94 L403.98,196.33 L404.73,196.70 L405.48,197.03 L406.20,197.30 L406.91,197.50 L407.64,197.66 L408.38,197.80 L409.11,197.91 L409.83,198.00 L410.53,198.09 L411.19,198.19 L411.80,198.30 L412.36,198.41 L412.86,198.50 L413.32,198.58 L413.76,198.66 L414.20,198.76 L414.64,198.87 L415.10,199.02 L415.60,199.20 L416.14,199.44 L416.69,199.74 L417.26,200.08 L417.84,200.43 L418.43,200.78 L419.02,201.11 L419.61,201.39 L420.20,201.60 L420.78,201.74 L421.37,201.81 L421.96,201.85 L422.54,201.86 L423.13,201.86 L423.72,201.87 L424.31,201.91 L424.90,202.00 L425.48,202.15 L426.03,202.35 L426.58,202.59 L427.14,202.83 L427.71,203.06 L428.30,203.27 L428.93,203.42 L429.60,203.50 L430.33,203.49 L431.12,203.39 L431.94,203.24 L432.79,203.06 L433.64,202.88 L434.49,202.73 L435.31,202.62 L436.10,202.60 L436.83,202.66 L437.52,202.79 L438.19,202.97 L438.84,203.17 L439.51,203.39 L440.22,203.59 L440.97,203.77 L441.80,203.90 L442.69,203.99 L443.63,204.06 L444.61,204.11 L445.63,204.15 L446.68,204.18 L447.76,204.20 L448.87,204.22 L450.00,204.25 L451.13,204.28 L452.26,204.30 L453.40,204.32 L454.57,204.34 L455.80,204.36 L457.11,204.37 L458.50,204.39 L460.00,204.40 L461.74,204.42 L463.75,204.43 L465.92,204.45 L468.12,204.46 L470.25,204.47 L472.19,204.48 L473.81,204.49 L475.00,204.50 L475.00,204.50 Z" fill="#FC8D62" stroke="none"/>
<path d="M143.30,204.50 L146.11,204.50 L149.82,204.50 L154.23,204.50 L159.15,204.50 L164.38,204.50 L169.73,204.50 L175.00,204.50 L180.00,204.50 L184.84,204.50 L189.77,204.50 L194.76,204.50 L199.79,204.50 L204.85,204.50 L209.92,204.50 L214.98,204.50 L220.00,204.50 L225.10,204.50 L230.35,204.50 L235.66,204.50 L240.94,204.50 L246.10,204.50 L251.05,204.50 L255.72,204.50 L260.00,204.50 L263.91,204.50 L267.54,204.49 L270.91,204.49 L274.06,204.48 L277.02,204.47 L279.80,204.47 L282.46,204.46 L285.00,204.45 L287.35,204.44 L289.45,204.44 L291.36,204.43 L293.12,204.42 L294.81,204.42 L296.48,204.40 L298.19,204.38 L300.00,204.35 L301.91,204.32 L303.88,204.28 L305.88,204.24 L307.86,204.20 L309.79,204.15 L311.65,204.08 L313.40,204.00 L315.00,203.90 L316.43,203.78 L317.72,203.64 L318.90,203.48 L320.00,203.32 L321.06,203.14 L322.10,202.96 L323.17,202.78 L324.30,202.60 L325.47,202.43 L326.65,202.26 L327.82,202.09 L329.00,201.91 L330.18,201.73 L331.35,201.54 L332.53,201.33 L333.70,201.10 L334.88,200.84 L336.07,200.56 L337.27,200.25 L338.47,199.94 L339.65,199.62 L340.80,199.32 L341.92,199.05 L343.00,198.80 L344.04,198.60 L345.05,198.43 L346.03,198.28 L346.98,198.15 L347.91,198.02 L348.80,197.87 L349.67,197.70 L350.50,197.50 L351.30,197.25 L352.08,196.95 L352.82,196.63 L353.53,196.30 L354.22,195.97 L354.87,195.67 L355.50,195.41 L356.10,195.20 L356.65,195.07 L357.13,195.01 L357.58,194.99 L358.00,194.99 L358.42,194.99 L358.87,194.96 L359.35,194.87 L359.90,194.70 L360.53,194.43 L361.22,194.06 L361.95,193.64 L362.71,193.19 L363.46,192.74 L364.19,192.33 L364.88,191.97 L365.50,191.70 L366.04,191.51 L366.51,191.38 L366.94,191.28 L367.34,191.23 L367.75,191.21 L368.18,191.22 L368.65,191.25 L369.20,191.30 L369.84,191.39 L370.58,191.53 L371.36,191.71 L372.17,191.91 L372.96,192.12 L373.70,192.31 L374.36,192.48 L374.90,192.60 L375.29,192.70 L375.54,192.79 L375.69,192.87 L375.81,192.93 L375.92,192.96 L376.07,192.96 L376.32,192.91 L376.70,192.80 L377.24,192.62 L377.91,192.36 L378.66,192.04 L379.46,191.69 L380.27,191.33 L381.04,190.98 L381.73,190.67 L382.30,190.40 L382.74,190.16 L383.09,189.93 L383.38,189.70 L383.62,189.49 L383.85,189.31 L384.08,189.18 L384.36,189.11 L384.70,189.10 L385.10,189.18 L385.53,189.36 L385.99,189.59 L386.46,189.87 L386.95,190.16 L387.44,190.45 L387.92,190.70 L388.40,190.90 L388.86,191.03 L389.30,191.12 L389.74,191.18 L390.18,191.23 L390.64,191.28 L391.12,191.37 L391.64,191.50 L392.20,191.70 L392.83,191.99 L393.54,192.37 L394.29,192.80 L395.06,193.25 L395.83,193.70 L396.55,194.11 L397.22,194.45 L397.80,194.70 L398.26,194.83 L398.63,194.85 L398.93,194.81 L399.20,194.72 L399.47,194.64 L399.77,194.59 L400.14,194.60 L400.60,194.70 L401.17,194.91 L401.80,195.20 L402.49,195.55 L403.23,195.94 L403.98,196.33 L404.73,196.70 L405.48,197.03 L406.20,197.30 L406.91,197.50 L407.64,197.66 L408.38,197.80 L409.11,197.91 L409.83,198.00 L410.53,198.09 L411.19,198.19 L411.80,198.30 L412.36,198.41 L412.86,198.50 L413.32,198.58 L413.76,198.66 L414.20,198.76 L414.64,198.87 L415.10,199.02 L415.60,199.20 L416.14,199.44 L416.69,199.74 L417.26,200.08 L417.84,200.43 L418.43,200.78 L419.02,201.11 L419.61,201.39 L420.20,201.60 L420.78,201.74 L421.37,201.81 L421.96,201.85 L422.54,201.86 L423.13,201.86 L423.72,201.87 L424.31,201.91 L424.90,202.00 L425.48,202.15 L426.03,202.35 L426.58,202.59 L427.14,202.83 L427.71,203.06 L428.30,203.27 L428.93,203.42 L429.60,203.50 L430.33,203.49 L431.12,203.39 L431.94,203.24 L432.79,203.06 L433.64,202.88 L434.49,202.73 L435.31,202.62 L436.10,202.60 L436.83,202.66 L437.52,202.79 L438.19,202.97 L438.84,203.17 L439.51,203.39 L440.22,203.59 L440.97,203.77 L441.80,203.90 L442.69,203.99 L443.63,204.06 L444.61,204.11 L445.63,204.15 L446.68,204.18 L447.76,204.20 L448.87,204.22 L450.00,204.25 L451.13,204.28 L452.26,204.30 L453.40,204.32 L454.57,204.34 L455.80,204.36 L457.11,204.37 L458.50,204.39 L460.00,204.40 L461.74,204.42 L463.75,204.43 L465.92,204.45 L468.12,204.46 L470.25,204.47 L472.19,204.48 L473.81,204.49 L475.00,204.50" fill="none" stroke="#3a3a3a" stroke-width="0.85" stroke-linejoin="round"/>
<text x="145.2" y="201.8" text-anchor="end" font-size="10.35" fill="#1a1a1a">Nasolabial A (angle)</text>
<path d="M143.30,247.50 L143.30,247.50 L144.13,247.50 L144.96,247.50 L145.79,247.50 L146.62,247.50 L147.45,247.50 L148.28,247.50 L149.10,247.50 L149.93,247.50 L150.76,247.50 L151.59,247.50 L152.42,247.50 L153.25,247.50 L154.08,247.50 L154.91,247.50 L155.74,247.50 L156.57,247.50 L157.40,247.50 L158.23,247.50 L159.06,247.50 L159.89,247.50 L160.71,247.50 L161.54,247.50 L162.37,247.50 L163.20,247.49 L164.03,247.48 L164.86,247.46 L165.69,247.43 L166.52,247.36 L167.35,247.24 L168.18,247.04 L169.01,246.70 L169.84,246.16 L170.67,245.31 L171.49,244.05 L172.32,242.24 L173.15,239.70 L173.98,236.31 L174.81,231.92 L175.64,226.49 L176.47,220.02 L177.30,212.67 L178.13,204.70 L178.96,196.53 L179.79,188.65 L180.62,181.64 L181.45,176.06 L182.27,172.37 L183.10,170.92 L183.93,171.58 L184.76,173.93 L185.59,177.81 L186.42,182.97 L187.25,189.09 L188.08,195.82 L188.91,202.80 L189.74,209.71 L190.57,216.27 L191.40,222.27 L192.23,227.57 L193.06,232.12 L193.88,235.89 L194.71,238.94 L195.54,241.32 L196.37,243.15 L197.20,244.50 L198.03,245.48 L198.86,246.17 L199.69,246.64 L200.52,246.96 L201.35,247.17 L202.18,247.30 L203.01,247.38 L203.84,247.43 L204.66,247.46 L205.49,247.48 L206.32,247.49 L207.15,247.49 L207.98,247.50 L208.81,247.50 L209.64,247.50 L210.47,247.50 L211.30,247.50 L212.13,247.50 L212.96,247.50 L213.79,247.50 L214.62,247.50 L215.44,247.50 L216.27,247.50 L217.10,247.50 L217.93,247.50 L218.76,247.50 L219.59,247.50 L220.42,247.50 L221.25,247.50 L222.08,247.50 L222.91,247.50 L223.74,247.50 L224.57,247.50 L225.40,247.50 L226.23,247.50 L227.05,247.50 L227.88,247.50 L228.71,247.50 L229.54,247.50 L230.37,247.50 L231.20,247.50 L232.03,247.50 L232.86,247.50 L233.69,247.50 L234.52,247.50 L235.35,247.50 L236.18,247.50 L237.01,247.50 L237.83,247.50 L238.66,247.50 L239.49,247.50 L240.32,247.50 L241.15,247.50 L241.98,247.50 L242.81,247.50 L243.64,247.50 L244.47,247.50 L245.30,247.50 L246.13,247.50 L246.96,247.50 L247.79,247.50 L248.61,247.50 L249.44,247.50 L250.27,247.50 L251.10,247.50 L251.93,247.50 L252.76,247.50 L253.59,247.50 L254.42,247.50 L255.25,247.50 L256.08,247.50 L256.91,247.50 L257.74,247.50 L258.57,247.50 L259.39,247.50 L260.22,247.50 L261.05,247.50 L261.88,247.50 L262.71,247.50 L263.54,247.50 L264.37,247.50 L265.20,247.50 L266.03,247.50 L266.86,247.50 L267.69,247.50 L268.52,247.50 L269.35,247.50 L270.18,247.50 L271.00,247.50 L271.83,247.50 L272.66,247.50 L273.49,247.50 L274.32,247.50 L275.15,247.50 L275.98,247.50 L276.81,247.50 L277.64,247.50 L278.47,247.50 L279.30,247.50 L280.13,247.50 L280.96,247.50 L281.78,247.50 L282.61,247.50 L283.44,247.50 L284.27,247.50 L285.10,247.50 L285.93,247.50 L286.76,247.50 L287.59,247.50 L288.42,247.50 L289.25,247.50 L290.08,247.50 L290.91,247.50 L291.74,247.50 L292.56,247.50 L293.39,247.50 L294.22,247.50 L295.05,247.50 L295.88,247.50 L296.71,247.50 L297.54,247.50 L298.37,247.50 L299.20,247.50 L300.03,247.50 L300.86,247.50 L301.69,247.50 L302.52,247.50 L303.35,247.50 L304.17,247.50 L305.00,247.50 L305.83,247.50 L306.66,247.50 L307.49,247.50 L308.32,247.50 L309.15,247.50 L309.98,247.50 L310.81,247.50 L311.64,247.50 L312.47,247.50 L313.30,247.50 L314.13,247.50 L314.95,247.50 L315.78,247.50 L316.61,247.50 L317.44,247.50 L318.27,247.50 L319.10,247.50 L319.93,247.50 L320.76,247.50 L321.59,247.50 L322.42,247.50 L323.25,247.50 L324.08,247.50 L324.91,247.50 L325.74,247.50 L326.56,247.50 L327.39,247.50 L328.22,247.50 L329.05,247.50 L329.88,247.50 L330.71,247.50 L331.54,247.50 L332.37,247.50 L333.20,247.50 L334.03,247.50 L334.86,247.50 L335.69,247.50 L336.52,247.50 L337.34,247.50 L338.17,247.50 L339.00,247.50 L339.83,247.50 L340.66,247.50 L341.49,247.50 L342.32,247.50 L343.15,247.50 L343.98,247.50 L344.81,247.50 L345.64,247.50 L346.47,247.50 L347.30,247.50 L348.12,247.50 L348.95,247.50 L349.78,247.50 L350.61,247.50 L351.44,247.50 L352.27,247.50 L353.10,247.50 L353.93,247.50 L354.76,247.50 L355.59,247.50 L356.42,247.50 L357.25,247.50 L358.08,247.50 L358.90,247.50 L359.73,247.50 L360.56,247.50 L361.39,247.50 L362.22,247.50 L363.05,247.50 L363.88,247.50 L364.71,247.50 L365.54,247.50 L366.37,247.50 L367.20,247.50 L368.03,247.50 L368.86,247.50 L369.69,247.50 L370.51,247.50 L371.34,247.50 L372.17,247.50 L373.00,247.50 L373.83,247.50 L374.66,247.50 L375.49,247.50 L376.32,247.50 L377.15,247.50 L377.98,247.50 L378.81,247.50 L379.64,247.50 L380.47,247.50 L381.29,247.50 L382.12,247.50 L382.95,247.50 L383.78,247.50 L384.61,247.50 L385.44,247.50 L386.27,247.50 L387.10,247.50 L387.93,247.50 L388.76,247.50 L389.59,247.50 L390.42,247.50 L391.25,247.50 L392.08,247.50 L392.90,247.50 L393.73,247.50 L394.56,247.50 L395.39,247.50 L396.22,247.50 L397.05,247.50 L397.88,247.50 L398.71,247.50 L399.54,247.50 L400.37,247.50 L401.20,247.50 L402.03,247.50 L402.86,247.50 L403.68,247.50 L404.51,247.50 L405.34,247.50 L406.17,247.50 L407.00,247.50 L407.83,247.50 L408.66,247.50 L409.49,247.50 L410.32,247.50 L411.15,247.50 L411.98,247.50 L412.81,247.50 L413.64,247.50 L414.46,247.50 L415.29,247.50 L416.12,247.50 L416.95,247.50 L417.78,247.50 L418.61,247.50 L419.44,247.50 L420.27,247.50 L421.10,247.50 L421.93,247.50 L422.76,247.50 L423.59,247.50 L424.42,247.50 L425.25,247.50 L426.07,247.50 L426.90,247.50 L427.73,247.50 L428.56,247.50 L429.39,247.50 L430.22,247.50 L431.05,247.50 L431.88,247.50 L432.71,247.50 L433.54,247.50 L434.37,247.50 L435.20,247.50 L436.03,247.50 L436.85,247.50 L437.68,247.50 L438.51,247.50 L439.34,247.50 L440.17,247.50 L441.00,247.50 L441.83,247.50 L442.66,247.50 L443.49,247.50 L444.32,247.50 L445.15,247.50 L445.98,247.50 L446.81,247.50 L447.63,247.50 L448.46,247.50 L449.29,247.50 L450.12,247.50 L450.95,247.50 L451.78,247.50 L452.61,247.50 L453.44,247.50 L454.27,247.50 L455.10,247.50 L455.93,247.50 L456.76,247.50 L457.59,247.50 L458.42,247.50 L459.24,247.50 L460.07,247.50 L460.90,247.50 L461.73,247.50 L462.56,247.50 L463.39,247.50 L464.22,247.50 L465.05,247.50 L465.88,247.50 L466.71,247.50 L467.54,247.50 L468.37,247.50 L469.20,247.50 L470.02,247.50 L470.85,247.50 L471.68,247.50 L472.51,247.50 L473.34,247.50 L474.17,247.50 L475.00,247.50 L475.00,247.50 Z" fill="#66C2A5" stroke="none"/>
<path d="M143.30,247.50 L144.13,247.50 L144.96,247.50 L145.79,247.50 L146.62,247.50 L147.45,247.50 L148.28,247.50 L149.10,247.50 L149.93,247.50 L150.76,247.50 L151.59,247.50 L152.42,247.50 L153.25,247.50 L154.08,247.50 L154.91,247.50 L155.74,247.50 L156.57,247.50 L157.40,247.50 L158.23,247.50 L159.06,247.50 L159.89,247.50 L160.71,247.50 L161.54,247.50 L162.37,247.50 L163.20,247.49 L164.03,247.48 L164.86,247.46 L165.69,247.43 L166.52,247.36 L167.35,247.24 L168.18,247.04 L169.01,246.70 L169.84,246.16 L170.67,245.31 L171.49,244.05 L172.32,242.24 L173.15,239.70 L173.98,236.31 L174.81,231.92 L175.64,226.49 L176.47,220.02 L177.30,212.67 L178.13,204.70 L178.96,196.53 L179.79,188.65 L180.62,181.64 L181.45,176.06 L182.27,172.37 L183.10,170.92 L183.93,171.58 L184.76,173.93 L185.59,177.81 L186.42,182.97 L187.25,189.09 L188.08,195.82 L188.91,202.80 L189.74,209.71 L190.57,216.27 L191.40,222.27 L192.23,227.57 L193.06,232.12 L193.88,235.89 L194.71,238.94 L195.54,241.32 L196.37,243.15 L197.20,244.50 L198.03,245.48 L198.86,246.17 L199.69,246.64 L200.52,246.96 L201.35,247.17 L202.18,247.30 L203.01,247.38 L203.84,247.43 L204.66,247.46 L205.49,247.48 L206.32,247.49 L207.15,247.49 L207.98,247.50 L208.81,247.50 L209.64,247.50 L210.47,247.50 L211.30,247.50 L212.13,247.50 L212.96,247.50 L213.79,247.50 L214.62,247.50 L215.44,247.50 L216.27,247.50 L217.10,247.50 L217.93,247.50 L218.76,247.50 L219.59,247.50 L220.42,247.50 L221.25,247.50 L222.08,247.50 L222.91,247.50 L223.74,247.50 L224.57,247.50 L225.40,247.50 L226.23,247.50 L227.05,247.50 L227.88,247.50 L228.71,247.50 L229.54,247.50 L230.37,247.50 L231.20,247.50 L232.03,247.50 L232.86,247.50 L233.69,247.50 L234.52,247.50 L235.35,247.50 L236.18,247.50 L237.01,247.50 L237.83,247.50 L238.66,247.50 L239.49,247.50 L240.32,247.50 L241.15,247.50 L241.98,247.50 L242.81,247.50 L243.64,247.50 L244.47,247.50 L245.30,247.50 L246.13,247.50 L246.96,247.50 L247.79,247.50 L248.61,247.50 L249.44,247.50 L250.27,247.50 L251.10,247.50 L251.93,247.50 L252.76,247.50 L253.59,247.50 L254.42,247.50 L255.25,247.50 L256.08,247.50 L256.91,247.50 L257.74,247.50 L258.57,247.50 L259.39,247.50 L260.22,247.50 L261.05,247.50 L261.88,247.50 L262.71,247.50 L263.54,247.50 L264.37,247.50 L265.20,247.50 L266.03,247.50 L266.86,247.50 L267.69,247.50 L268.52,247.50 L269.35,247.50 L270.18,247.50 L271.00,247.50 L271.83,247.50 L272.66,247.50 L273.49,247.50 L274.32,247.50 L275.15,247.50 L275.98,247.50 L276.81,247.50 L277.64,247.50 L278.47,247.50 L279.30,247.50 L280.13,247.50 L280.96,247.50 L281.78,247.50 L282.61,247.50 L283.44,247.50 L284.27,247.50 L285.10,247.50 L285.93,247.50 L286.76,247.50 L287.59,247.50 L288.42,247.50 L289.25,247.50 L290.08,247.50 L290.91,247.50 L291.74,247.50 L292.56,247.50 L293.39,247.50 L294.22,247.50 L295.05,247.50 L295.88,247.50 L296.71,247.50 L297.54,247.50 L298.37,247.50 L299.20,247.50 L300.03,247.50 L300.86,247.50 L301.69,247.50 L302.52,247.50 L303.35,247.50 L304.17,247.50 L305.00,247.50 L305.83,247.50 L306.66,247.50 L307.49,247.50 L308.32,247.50 L309.15,247.50 L309.98,247.50 L310.81,247.50 L311.64,247.50 L312.47,247.50 L313.30,247.50 L314.13,247.50 L314.95,247.50 L315.78,247.50 L316.61,247.50 L317.44,247.50 L318.27,247.50 L319.10,247.50 L319.93,247.50 L320.76,247.50 L321.59,247.50 L322.42,247.50 L323.25,247.50 L324.08,247.50 L324.91,247.50 L325.74,247.50 L326.56,247.50 L327.39,247.50 L328.22,247.50 L329.05,247.50 L329.88,247.50 L330.71,247.50 L331.54,247.50 L332.37,247.50 L333.20,247.50 L334.03,247.50 L334.86,247.50 L335.69,247.50 L336.52,247.50 L337.34,247.50 L338.17,247.50 L339.00,247.50 L339.83,247.50 L340.66,247.50 L341.49,247.50 L342.32,247.50 L343.15,247.50 L343.98,247.50 L344.81,247.50 L345.64,247.50 L346.47,247.50 L347.30,247.50 L348.12,247.50 L348.95,247.50 L349.78,247.50 L350.61,247.50 L351.44,247.50 L352.27,247.50 L353.10,247.50 L353.93,247.50 L354.76,247.50 L355.59,247.50 L356.42,247.50 L357.25,247.50 L358.08,247.50 L358.90,247.50 L359.73,247.50 L360.56,247.50 L361.39,247.50 L362.22,247.50 L363.05,247.50 L363.88,247.50 L364.71,247.50 L365.54,247.50 L366.37,247.50 L367.20,247.50 L368.03,247.50 L368.86,247.50 L369.69,247.50 L370.51,247.50 L371.34,247.50 L372.17,247.50 L373.00,247.50 L373.83,247.50 L374.66,247.50 L375.49,247.50 L376.32,247.50 L377.15,247.50 L377.98,247.50 L378.81,247.50 L379.64,247.50 L380.47,247.50 L381.29,247.50 L382.12,247.50 L382.95,247.50 L383.78,247.50 L384.61,247.50 L385.44,247.50 L386.27,247.50 L387.10,247.50 L387.93,247.50 L388.76,247.50 L389.59,247.50 L390.42,247.50 L391.25,247.50 L392.08,247.50 L392.90,247.50 L393.73,247.50 L394.56,247.50 L395.39,247.50 L396.22,247.50 L397.05,247.50 L397.88,247.50 L398.71,247.50 L399.54,247.50 L400.37,247.50 L401.20,247.50 L402.03,247.50 L402.86,247.50 L403.68,247.50 L404.51,247.50 L405.34,247.50 L406.17,247.50 L407.00,247.50 L407.83,247.50 L408.66,247.50 L409.49,247.50 L410.32,247.50 L411.15,247.50 L411.98,247.50 L412.81,247.50 L413.64,247.50 L414.46,247.50 L415.29,247.50 L416.12,247.50 L416.95,247.50 L417.78,247.50 L418.61,247.50 L419.44,247.50 L420.27,247.50 L421.10,247.50 L421.93,247.50 L422.76,247.50 L423.59,247.50 L424.42,247.50 L425.25,247.50 L426.07,247.50 L426.90,247.50 L427.73,247.50 L428.56,247.50 L429.39,247.50 L430.22,247.50 L431.05,247.50 L431.88,247.50 L432.71,247.50 L433.54,247.50 L434.37,247.50 L435.20,247.50 L436.03,247.50 L436.85,247.50 L437.68,247.50 L438.51,247.50 L439.34,247.50 L440.17,247.50 L441.00,247.50 L441.83,247.50 L442.66,247.50 L443.49,247.50 L444.32,247.50 L445.15,247.50 L445.98,247.50 L446.81,247.50 L447.63,247.50 L448.46,247.50 L449.29,247.50 L450.12,247.50 L450.95,247.50 L451.78,247.50 L452.61,247.50 L453.44,247.50 L454.27,247.50 L455.10,247.50 L455.93,247.50 L456.76,247.50 L457.59,247.50 L458.42,247.50 L459.24,247.50 L460.07,247.50 L460.90,247.50 L461.73,247.50 L462.56,247.50 L463.39,247.50 L464.22,247.50 L465.05,247.50 L465.88,247.50 L466.71,247.50 L467.54,247.50 L468.37,247.50 L469.20,247.50 L470.02,247.50 L470.85,247.50 L471.68,247.50 L472.51,247.50 L473.34,247.50 L474.17,247.50 L475.00,247.50" fill="none" stroke="#3a3a3a" stroke-width="0.85" stroke-linejoin="round"/>
<text x="145.2" y="244.8" text-anchor="end" font-size="10.35" fill="#1a1a1a">Basic upper lip thickness (mm)</text>
<text transform="translate(149.4,263.7) scale(0.94,1.1)" text-anchor="middle" font-size="10.3" fill="#1a1a1a" stroke="#1a1a1a" stroke-width="0.15">0</text>
<text transform="translate(269.6,263.7) scale(0.94,1.1)" text-anchor="middle" font-size="10.3" fill="#1a1a1a" stroke="#1a1a1a" stroke-width="0.15">50</text>
<text transform="translate(390.5,263.7) scale(0.94,1.1)" text-anchor="middle" font-size="10.3" fill="#1a1a1a" stroke="#1a1a1a" stroke-width="0.15">100</text>
<text transform="translate(13.2,22.1) scale(0.96,1)" font-size="21.6" fill="#000" stroke="#000" stroke-width="0.35">A</text>
<text transform="translate(13.6,294) scale(0.76,1.03)" font-size="21" font-weight="bold" fill="#000">B</text>
<circle cx="263" cy="284.6" r="6.9" fill="#66C2A5"/>
<text x="272.5" y="288.1" font-size="9.7" fill="#1a1a1a" stroke="#1a1a1a" stroke-width="0.15">Sagittal</text>
<circle cx="325" cy="284.6" r="6.9" fill="#FC8D62"/>
<text x="335" y="288.1" font-size="9.7" fill="#1a1a1a" stroke="#1a1a1a" stroke-width="0.15">Vertical</text>
<circle cx="386.2" cy="284.6" r="6.9" fill="#8DA0CB"/>
<text x="397" y="288.1" font-size="9.7" fill="#1a1a1a" stroke="#1a1a1a" stroke-width="0.15">Sagittal_Vertical</text>
<line x1="48.9" y1="468.80" x2="475" y2="468.80" stroke="#c2c2c2" stroke-width="1.2" stroke-dasharray="1.6 2.471"/>
<line x1="42.5" y1="468.80" x2="46" y2="468.80" stroke="#333" stroke-width="1.1"/>
<text transform="translate(40.4,471.80) scale(1,1.15)" text-anchor="end" font-size="8.2" fill="#444" stroke="#444" stroke-width="0.12">0</text>
<line x1="48.9" y1="401.80" x2="475" y2="401.80" stroke="#c2c2c2" stroke-width="1.2" stroke-dasharray="1.6 2.471"/>
<line x1="42.5" y1="401.80" x2="46" y2="401.80" stroke="#333" stroke-width="1.1"/>
<text transform="translate(40.4,404.80) scale(1,1.15)" text-anchor="end" font-size="8.2" fill="#444" stroke="#444" stroke-width="0.12">500</text>
<line x1="48.9" y1="334.80" x2="475" y2="334.80" stroke="#c2c2c2" stroke-width="1.2" stroke-dasharray="1.6 2.471"/>
<line x1="42.5" y1="334.80" x2="46" y2="334.80" stroke="#333" stroke-width="1.1"/>
<text transform="translate(40.4,337.80) scale(1,1.15)" text-anchor="end" font-size="8.2" fill="#444" stroke="#444" stroke-width="0.12">1000</text>
<text transform="translate(16.1,402.0) rotate(-90)" text-anchor="middle" font-size="13.25" fill="#1a1a1a">Number count (N)</text>
<line x1="62.30" y1="412.58" x2="62.30" y2="468.8" stroke="#d3d3d3" stroke-width="3.9"/>
<circle cx="62.30" cy="412.58" r="6.4" fill="#66C2A5"/>
<text x="62.30" y="405.08" text-anchor="middle" font-size="9.6" fill="#1a1a1a" stroke="#1a1a1a" stroke-width="0.1">20.2%</text>
<line x1="62.30" y1="477.8" x2="62.30" y2="480.8" stroke="#333" stroke-width="1.1"/>
<text transform="translate(64.90,482.6) rotate(-90)" text-anchor="end" font-size="7" fill="#4d4d4d">III</text>
<line x1="90.58" y1="376.29" x2="90.58" y2="468.8" stroke="#d3d3d3" stroke-width="3.9"/>
<circle cx="90.58" cy="376.29" r="6.4" fill="#66C2A5"/>
<text x="90.58" y="368.79" text-anchor="middle" font-size="9.6" fill="#1a1a1a" stroke="#1a1a1a" stroke-width="0.1">33.24%</text>
<line x1="90.58" y1="477.8" x2="90.58" y2="480.8" stroke="#333" stroke-width="1.1"/>
<text transform="translate(93.18,482.6) rotate(-90)" text-anchor="end" font-size="7" fill="#4d4d4d">II</text>
<line x1="118.86" y1="339.22" x2="118.86" y2="468.8" stroke="#d3d3d3" stroke-width="3.9"/>
<circle cx="118.86" cy="339.22" r="6.4" fill="#66C2A5"/>
<text x="118.86" y="331.72" text-anchor="middle" font-size="9.6" fill="#1a1a1a" stroke="#1a1a1a" stroke-width="0.1">46.56%</text>
<line x1="118.86" y1="477.8" x2="118.86" y2="480.8" stroke="#333" stroke-width="1.1"/>
<text transform="translate(121.46,482.6) rotate(-90)" text-anchor="end" font-size="7" fill="#4d4d4d">I</text>
<line x1="147.14" y1="436.79" x2="147.14" y2="468.8" stroke="#d3d3d3" stroke-width="3.9"/>
<circle cx="147.14" cy="436.79" r="6.4" fill="#FC8D62"/>
<text x="147.14" y="429.29" text-anchor="middle" font-size="9.6" fill="#1a1a1a" stroke="#1a1a1a" stroke-width="0.1">11.5%</text>
<line x1="147.14" y1="477.8" x2="147.14" y2="480.8" stroke="#333" stroke-width="1.1"/>
<text transform="translate(149.74,482.6) rotate(-90)" text-anchor="end" font-size="7" fill="#4d4d4d">Hyperdivergent</text>
<line x1="175.42" y1="398.39" x2="175.42" y2="468.8" stroke="#d3d3d3" stroke-width="3.9"/>
<circle cx="175.42" cy="398.39" r="6.4" fill="#FC8D62"/>
<text x="175.42" y="390.89" text-anchor="middle" font-size="9.6" fill="#1a1a1a" stroke="#1a1a1a" stroke-width="0.1">25.3%</text>
<line x1="175.42" y1="477.8" x2="175.42" y2="480.8" stroke="#333" stroke-width="1.1"/>
<text transform="translate(178.02,482.6) rotate(-90)" text-anchor="end" font-size="7" fill="#4d4d4d">Hypodivergent</text>
<line x1="203.70" y1="292.90" x2="203.70" y2="468.8" stroke="#d3d3d3" stroke-width="3.9"/>
<circle cx="203.70" cy="292.90" r="6.4" fill="#FC8D62"/>
<text x="203.70" y="285.40" text-anchor="middle" font-size="9.6" fill="#1a1a1a" stroke="#1a1a1a" stroke-width="0.1">63.2%</text>
<line x1="203.70" y1="477.8" x2="203.70" y2="480.8" stroke="#333" stroke-width="1.1"/>
<text transform="translate(206.30,482.6) rotate(-90)" text-anchor="end" font-size="7" fill="#4d4d4d">Normodivergent</text>
<line x1="231.98" y1="465.18" x2="231.98" y2="468.8" stroke="#d3d3d3" stroke-width="3.9"/>
<circle cx="231.98" cy="465.18" r="6.4" fill="#8DA0CB"/>
<text x="231.98" y="457.68" text-anchor="middle" font-size="9.6" fill="#1a1a1a" stroke="#1a1a1a" stroke-width="0.1">1.3%</text>
<line x1="231.98" y1="477.8" x2="231.98" y2="480.8" stroke="#333" stroke-width="1.1"/>
<text transform="translate(234.58,482.6) rotate(-90)" text-anchor="end" font-size="7" fill="#4d4d4d">III_Hyperdivergent</text>
<line x1="260.26" y1="457.56" x2="260.26" y2="468.8" stroke="#d3d3d3" stroke-width="3.9"/>
<circle cx="260.26" cy="457.56" r="6.4" fill="#8DA0CB"/>
<text x="260.26" y="450.06" text-anchor="middle" font-size="9.6" fill="#1a1a1a" stroke="#1a1a1a" stroke-width="0.1">4.04%</text>
<line x1="260.26" y1="477.8" x2="260.26" y2="480.8" stroke="#333" stroke-width="1.1"/>
<text transform="translate(262.86,482.6) rotate(-90)" text-anchor="end" font-size="7" fill="#4d4d4d">I_Hyperdivergent</text>
<line x1="288.54" y1="454.22" x2="288.54" y2="468.8" stroke="#d3d3d3" stroke-width="3.9"/>
<circle cx="288.54" cy="454.22" r="6.4" fill="#8DA0CB"/>
<text x="288.54" y="446.72" text-anchor="middle" font-size="9.6" fill="#1a1a1a" stroke="#1a1a1a" stroke-width="0.1">5.24%</text>
<line x1="288.54" y1="477.8" x2="288.54" y2="480.8" stroke="#333" stroke-width="1.1"/>
<text transform="translate(291.14,482.6) rotate(-90)" text-anchor="end" font-size="7" fill="#4d4d4d">II_Hypodivergent</text>
<line x1="316.82" y1="451.66" x2="316.82" y2="468.8" stroke="#d3d3d3" stroke-width="3.9"/>
<circle cx="316.82" cy="451.66" r="6.4" fill="#8DA0CB"/>
<text x="316.82" y="444.16" text-anchor="middle" font-size="9.6" fill="#1a1a1a" stroke="#1a1a1a" stroke-width="0.1">6.16%</text>
<line x1="316.82" y1="477.8" x2="316.82" y2="480.8" stroke="#333" stroke-width="1.1"/>
<text transform="translate(319.42,482.6) rotate(-90)" text-anchor="end" font-size="7" fill="#4d4d4d">II_Hyperdivergent</text>
<line x1="345.10" y1="446.17" x2="345.10" y2="468.8" stroke="#d3d3d3" stroke-width="3.9"/>
<circle cx="345.10" cy="446.17" r="6.4" fill="#8DA0CB"/>
<text x="345.10" y="438.67" text-anchor="middle" font-size="9.6" fill="#1a1a1a" stroke="#1a1a1a" stroke-width="0.1">8.13%</text>
<line x1="345.10" y1="477.8" x2="345.10" y2="480.8" stroke="#333" stroke-width="1.1"/>
<text transform="translate(347.70,482.6) rotate(-90)" text-anchor="end" font-size="7" fill="#4d4d4d">III_Hypodivergent</text>
<line x1="373.38" y1="438.83" x2="373.38" y2="468.8" stroke="#d3d3d3" stroke-width="3.9"/>
<circle cx="373.38" cy="438.83" r="6.4" fill="#8DA0CB"/>
<text x="373.38" y="431.33" text-anchor="middle" font-size="9.6" fill="#1a1a1a" stroke="#1a1a1a" stroke-width="0.1">10.77%</text>
<line x1="373.38" y1="477.8" x2="373.38" y2="480.8" stroke="#333" stroke-width="1.1"/>
<text transform="translate(375.98,482.6) rotate(-90)" text-anchor="end" font-size="7" fill="#4d4d4d">III_Normodivergent</text>
<line x1="401.66" y1="435.60" x2="401.66" y2="468.8" stroke="#d3d3d3" stroke-width="3.9"/>
<circle cx="401.66" cy="435.60" r="6.4" fill="#8DA0CB"/>
<text x="401.66" y="428.10" text-anchor="middle" font-size="9.6" fill="#1a1a1a" stroke="#1a1a1a" stroke-width="0.1">11.93%</text>
<line x1="401.66" y1="477.8" x2="401.66" y2="480.8" stroke="#333" stroke-width="1.1"/>
<text transform="translate(404.26,482.6) rotate(-90)" text-anchor="end" font-size="7" fill="#4d4d4d">I_Hypodivergent</text>
<line x1="429.94" y1="408.02" x2="429.94" y2="468.8" stroke="#d3d3d3" stroke-width="3.9"/>
<circle cx="429.94" cy="408.02" r="6.4" fill="#8DA0CB"/>
<text x="429.94" y="400.52" text-anchor="middle" font-size="9.6" fill="#1a1a1a" stroke="#1a1a1a" stroke-width="0.1">21.84%</text>
<line x1="429.94" y1="477.8" x2="429.94" y2="480.8" stroke="#333" stroke-width="1.1"/>
<text transform="translate(432.54,482.6) rotate(-90)" text-anchor="end" font-size="7" fill="#4d4d4d">II_Normodivergent</text>
<line x1="458.22" y1="383.66" x2="458.22" y2="468.8" stroke="#d3d3d3" stroke-width="3.9"/>
<circle cx="458.22" cy="383.66" r="6.4" fill="#8DA0CB"/>
<text x="458.22" y="376.16" text-anchor="middle" font-size="9.6" fill="#1a1a1a" stroke="#1a1a1a" stroke-width="0.1">30.59%</text>
<line x1="458.22" y1="477.8" x2="458.22" y2="480.8" stroke="#333" stroke-width="1.1"/>
<text transform="translate(460.82,482.6) rotate(-90)" text-anchor="end" font-size="7" fill="#4d4d4d">I_Normodivergent</text>
</svg></body></html>
